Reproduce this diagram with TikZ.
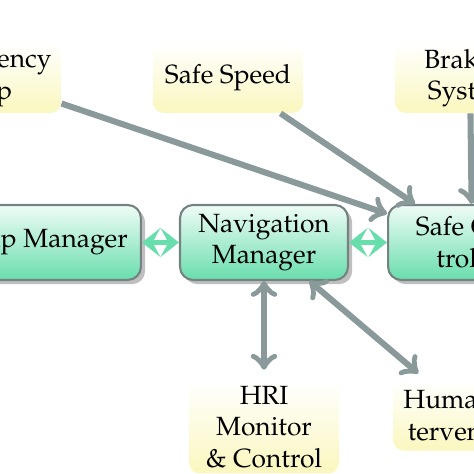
\documentclass[tikz,border=0pt]{standalone}
\usepackage[T1]{fontenc}
\usepackage{mathpazo}
\usetikzlibrary{arrows.meta,shadows}
\definecolor{modgreen}{RGB}{104,222,172}
\definecolor{linkgray}{RGB}{138,153,153}
\definecolor{notebot}{RGB}{250,247,190}

\begin{document}
\begin{tikzpicture}[
  module/.style={rectangle, rounded corners=5pt, draw=linkgray!85!black, line width=0.8pt,
    top color=modgreen!10!white, bottom color=modgreen,
    drop shadow={shadow xshift=1.6pt, shadow yshift=-1.6pt, fill=black!25, opacity=1},
    align=center, minimum width=2.24cm, minimum height=1cm, inner xsep=5pt},
  note/.style={rectangle, rounded corners=4pt, top color=white, bottom color=notebot,
    align=center, minimum width=2cm, minimum height=0.93cm, inner sep=2pt},
  tip/.tip={Classical TikZ Rightarrow[length=6pt, width=10pt]},
  flow/.style={-tip, linkgray, line width=2.3pt},
  link/.style={{Stealth[length=7pt, width=11pt, inset=3pt]}-{Stealth[length=7pt, width=11pt, inset=3pt]},
    modgreen, line width=2pt}
]
  % \draw[help lines] (0,0) grid (6, 6);
  \useasboundingbox (0, 0) rectangle (6.32, 6.32);
  \clip (0, 0) rectangle (6.32, 6.32);

  \node at (-0.187, 5.28) [note] (stop) {Emergency\\ Stop};
  \node at (3.04, 5.28) [note] (speed) {Safe Speed};
  \node at (6.267, 5.28) [note] (brake) {Braking\\ System};

  \node at (1.893, 3.087) [module, anchor=east] (map) {Map Manager};
  \node at (3.52, 3.087) [module] (nav) {Navigation\\ Manager};
  \node at (5.16, 3.087) [module, anchor=west] (safe) {Safe Con-\\ troller};

  \node at (3.52, 1.25) [note, anchor=north] (hri) {HRI\\ Monitor\\ \& Control};
  \node at (6.24, 1.25) [note, anchor=north] (human) {Human In-\\ tervention};

  \draw[flow] (stop) -- (safe);
  \draw[flow] (speed) -- (safe);
  \draw[flow] (brake) -- (safe);
  \draw[flow, tip-tip, shorten >=4pt] (nav) -- (hri);
  \draw[flow, tip-tip, shorten >=4pt] (nav) -- (human);
  \draw[link] (map) -- (nav);
  \draw[link] (nav) -- (safe);
\end{tikzpicture}
\end{document}
